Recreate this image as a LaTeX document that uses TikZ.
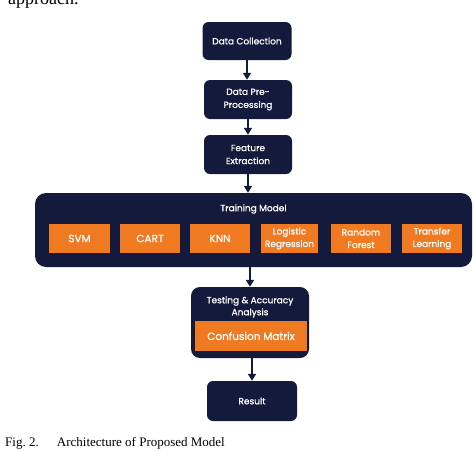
\documentclass[tikz,border=0pt]{standalone}
\usepackage{fontspec}
\setmainfont{Liberation Serif}
\newfontfamily\boxfont[FakeBold=0.9]{Poppins}
\usetikzlibrary{arrows.meta,positioning,calc}
\definecolor{navy}{HTML}{141A3C}
\definecolor{orng}{HTML}{F07A22}

\begin{document}
\begin{tikzpicture}[
  x=1pt,y=-1pt,
  stage/.style={fill=navy,text=white,rounded corners=6pt,align=center,font=\boxfont\fontsize{9}{13}\selectfont,inner sep=0pt},
  algo/.style={fill=orng,text=white,align=center,minimum height=29pt,inner sep=0pt,font=\boxfont\fontsize{9}{12.5}\selectfont},
  bigalgo/.style={algo,font=\boxfont\fontsize{10.5}{12}\selectfont},
  arr/.style={-{Triangle[width=8pt,length=7pt]},line width=2.6pt,navy},
  ann/.style={font=\fontsize{13}{15}\selectfont,anchor=base west,inner sep=0pt}
]
\clip (0,0) rectangle (474,450);
\useasboundingbox (0,0) rectangle (474,450);

\node[ann,font=\fontsize{18}{20}\selectfont] (prev) at (8,4.5) {approach.};

\node[stage,minimum width=89pt,minimum height=38pt] (dc) at (247,41) {Data Collection};
\node[stage,minimum width=88pt,minimum height=39pt] (dpp) at (248,99.5) {Data Pre-\\Processing};
\node[stage,minimum width=88pt,minimum height=39pt] (fe) at (248,154.5) {Feature\\Extraction};

% training block with the six classifiers
\node[stage,rounded corners=11pt,minimum width=437pt,minimum height=74pt] (train) at (253.5,230) {};
\node[text=white,font=\boxfont\fontsize{9}{11}\selectfont] (traintitle) at (253.5,209) {Training Model};
\node[bigalgo,minimum width=61pt] (svm) at (79.5,238.5) {SVM};
\node[bigalgo,minimum width=60pt] (cart) at (150,238.5) {CART};
\node[bigalgo,minimum width=60pt] (knn) at (220,238.5) {KNN};
\node[algo,minimum width=57pt] (lr) at (289.5,238.5) {Logistic\\Regression};
\node[algo,minimum width=60pt] (rf) at (361,238.5) {Random\\Forest};
\node[algo,minimum width=60pt] (tl) at (432,238.5) {Transfer\\Learning};

% testing block
\node[stage,rounded corners=9pt,minimum width=118pt,minimum height=71pt] (test) at (250,322.5) {};
\node[text=white,align=center,font=\boxfont\fontsize{9}{12}\selectfont] (testtitle) at (250,307) {Testing \& Accuracy\\Analysis};
\node[algo,minimum width=112pt,minimum height=30pt,font=\boxfont\fontsize{10.5}{12}\selectfont] (cm) at (251,336) {Confusion Matrix};

\node[stage,minimum width=90pt,minimum height=40pt] (res) at (252,401) {Result};

\draw[arr] (dc.south) -- (dc.south |- dpp.north);
\draw[arr] (dpp.south) -- (fe.north);
\draw[arr] (fe.south) -- (fe.south |- train.north);
\draw[arr] (train.south -| test.north) -- (test.north);
\draw[arr] (res.north |- test.south) -- (res.north);

\node[ann] (cap) at (5,446) {Fig.~2.\hspace{1.4em}Architecture of Proposed Model};
\end{tikzpicture}
\end{document}
